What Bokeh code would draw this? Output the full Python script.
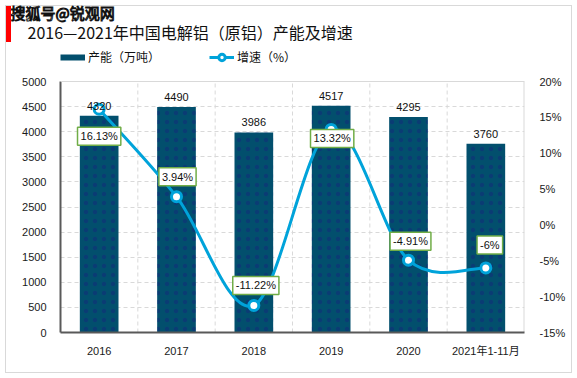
from bokeh.plotting import figure
from bokeh.models import (FactorRange, Range1d, LinearAxis, FixedTicker, PrintfTickFormatter,
                          ColumnDataSource, LabelSet, Label, Legend, LegendItem, Title, Span)
from bokeh.core.properties import value
from bokeh.embed import file_html
from bokeh.resources import INLINE

# ---- data ----
categories = ["2016", "2017", "2018", "2019", "2020", "2021年1-11月"]
capacity = [4320, 4490, 3986, 4517, 4295, 3760]          # 万吨
growth = [16.13, 3.94, -11.22, 13.32, -4.91, -6]          # %
growth_text = ["16.13%", "3.94%", "-11.22%", "13.32%", "-4.91%", "-6%"]
cap_ticks = [0, 500, 1000, 1500, 2000, 2500, 3000, 3500, 4000, 4500, 5000]
pct_ticks = [-15, -10, -5, 0, 5, 10, 15, 20]

title_text = "2016—2021年中国电解铝（原铝）产能及增速"
watermark_text = "搜狐号@锐观网"
legend_bar = "产能（万吨）"
legend_line = "增速（%）"

# label placement (pixels) for growth labels
lab_dx = [0, 1, 2, 1, 2, 4]
lab_dy = [-27, 20, 20, -9, 19, 23]

BAR = "#024F6D"
LINE = "#00A3DA"
GRID = "#D9D9D9"
AXIS = "#595959"
NUM_FONT = "Liberation Sans"
CJK_FONT = "Noto Sans CJK SC"
MIX_FONT = "Liberation Sans, Noto Sans CJK SC"

# layout (pixels): the frame also holds the legend strip above the plot area
FRAME_TOP, PLOT_TOP, FRAME_BOTTOM = 49, 81, 332
stretch = (FRAME_BOTTOM - FRAME_TOP) / (FRAME_BOTTOM - PLOT_TOP)
y_end = cap_ticks[0] + (cap_ticks[-1] - cap_ticks[0]) * stretch
pct_end = pct_ticks[0] + (pct_ticks[-1] - pct_ticks[0]) * stretch

p = figure(x_range=FactorRange(*categories), y_range=Range1d(cap_ticks[0], y_end),
           width=577, height=378, output_backend="svg", toolbar_location=None,
           min_border_left=60, min_border_right=53, min_border_top=FRAME_TOP,
           min_border_bottom=378 - FRAME_BOTTOM)
p.extra_y_ranges = {"pct": Range1d(pct_ticks[0], pct_end), "legend_only": Range1d(1e9, 2e9)}
p.border_fill_color = None
p.styles = {"background": "linear-gradient(#FF0000, #FF0000) 5px 5px / 6px 37px no-repeat, #FFFFFF",
            "outline": "1px solid #D9D9D9", "outline-offset": "-6px"}

p.outline_line_color = None
p.ygrid.ticker = FixedTicker(ticks=cap_ticks)
p.ygrid.grid_line_color = GRID
p.ygrid.grid_line_dash = "4 3"
p.xgrid.visible = False

# plot-area border (top and right) and dashed category separators
p.add_layout(Span(location=cap_ticks[-1], dimension="width", line_color=GRID, line_width=1))
bounds_x = [i for i in range(1, len(categories))]
p.segment(x0=bounds_x, y0=[cap_ticks[0]] * len(bounds_x), x1=bounds_x,
          y1=[cap_ticks[-1]] * len(bounds_x), line_color=GRID, line_width=1, line_dash="4 3")
p.segment(x0=[len(categories)], y0=[cap_ticks[0]], x1=[len(categories)], y1=[cap_ticks[-1]],
          line_color=GRID, line_width=2)

p.yaxis.ticker = FixedTicker(ticks=cap_ticks)
p.yaxis.bounds = (cap_ticks[0], cap_ticks[-1])
for ax in (p.xaxis[0], p.yaxis[0]):
    ax.axis_line_color = AXIS
    ax.axis_line_width = 2
    ax.major_tick_line_color = None
    ax.minor_tick_line_color = None
    ax.major_label_text_font_size = "11px"
    ax.major_label_text_color = "#1a1a1a"
p.yaxis.major_label_text_font = NUM_FONT
p.yaxis.major_label_standoff = 8
p.xaxis.major_label_text_font = MIX_FONT
p.xaxis.major_label_standoff = 6

right = LinearAxis(y_range_name="pct", ticker=FixedTicker(ticks=pct_ticks),
                   formatter=PrintfTickFormatter(format="%d%%"),
                   bounds=(pct_ticks[0], pct_ticks[-1]))
right.axis_line_color = None
right.major_tick_line_color = None
right.minor_tick_line_color = None
right.major_label_text_font = NUM_FONT
right.major_label_text_font_size = "11px"
right.major_label_text_color = "#1a1a1a"
right.major_label_standoff = 9
p.add_layout(right, "right")

src = ColumnDataSource(dict(cat=categories, cap=capacity,
                            cap_text=[str(v) for v in capacity],
                            growth=growth))
p.vbar(x="cat", top="cap", width=0.5, source=src, fill_color=BAR, line_color=None,
       hatch_pattern=".", hatch_color="#1b1b80", hatch_scale=9, hatch_weight=1,
       hatch_alpha=0.35)

# smoothed growth line (Catmull-Rom style Bezier through the data points)
xs = [i + 0.5 for i in range(len(categories))]
n = len(xs)
bz = dict(x0=[], y0=[], x1=[], y1=[], cx0=[], cy0=[], cx1=[], cy1=[])
for i in range(n - 1):
    p0 = (xs[max(i - 1, 0)], growth[max(i - 1, 0)])
    p1 = (xs[i], growth[i])
    p2 = (xs[i + 1], growth[i + 1])
    p3 = (xs[min(i + 2, n - 1)], growth[min(i + 2, n - 1)])
    bz["x0"].append(p1[0]); bz["y0"].append(p1[1])
    bz["x1"].append(p2[0]); bz["y1"].append(p2[1])
    bz["cx0"].append(p1[0] + (p2[0] - p0[0]) / 6); bz["cy0"].append(p1[1] + (p2[1] - p0[1]) / 6)
    bz["cx1"].append(p2[0] - (p3[0] - p1[0]) / 6); bz["cy1"].append(p2[1] - (p3[1] - p1[1]) / 6)
p.bezier(x0="x0", y0="y0", x1="x1", y1="y1", cx0="cx0", cy0="cy0", cx1="cx1", cy1="cy1",
         source=ColumnDataSource(bz), line_color=LINE, line_width=3, y_range_name="pct")
pts = p.scatter(x="cat", y="growth", source=src, size=10, fill_color="white",
                line_color=LINE, line_width=3, y_range_name="pct")

# value labels on bars
p.add_layout(LabelSet(x="cat", y="cap", text="cap_text", source=src, y_offset=10,
                      text_align="center", text_baseline="middle",
                      text_font=value(NUM_FONT), text_font_size="11px", text_color="#111111"))

# growth labels in boxes
has_pad = "padding" in Label.properties()
for i in range(n):
    kw = dict(x=xs[i], y=growth[i], y_range_name="pct", text=growth_text[i],
              x_offset=lab_dx[i], y_offset=lab_dy[i], text_align="center",
              text_baseline="middle", text_font=NUM_FONT, text_font_size="11px",
              text_color="#111111", background_fill_color="white",
              border_line_color="#70AD47", border_line_width=1.5)
    if has_pad:
        kw["padding"] = 3
    p.add_layout(Label(**kw))

# ---- legend (in the strip at the top of the frame) ----
leg_bar = p.line(x="cat", y="cap", source=src, y_range_name="legend_only",
                 line_color=BAR, line_width=6)
leg_line = p.line(x="cat", y="growth", source=src, y_range_name="legend_only",
                  line_color=LINE, line_width=3)
legend = Legend(items=[LegendItem(label=legend_bar, renderers=[leg_bar]),
                       LegendItem(label=legend_line, renderers=[leg_line, pts])],
                location=(0, FRAME_BOTTOM - 65), orientation="horizontal", padding=0, margin=0,
                spacing=49, label_standoff=3, glyph_width=25, glyph_height=16,
                label_height=16, label_text_font=CJK_FONT, label_text_font_size="12px",
                label_text_color="#111111", background_fill_alpha=0, border_line_color=None)
p.add_layout(legend)

# ---- title and watermark in the top panel ----
main_title = Title(text=title_text, align="left", offset=-33, standoff=0,
                   text_font=CJK_FONT, text_font_size="16px", text_font_style="normal",
                   text_color="#111111")
try:
    main_title.standoff = 12
except Exception:
    pass
p.add_layout(main_title, "above")
wm = dict(text=watermark_text, align="left", offset=-50, standoff=0,
          text_font=CJK_FONT, text_font_size="15px", text_font_style="normal")
if "text_outline_color" in Title.properties():
    wm.update(text_color="white", text_outline_color="#111111")
else:
    wm.update(text_color="#222222")
wm_title = Title(**wm)
try:
    wm_title.standoff = -23
except Exception:
    pass
p.add_layout(wm_title, "above")

open("out.html", "w").write(file_html(p, INLINE))
